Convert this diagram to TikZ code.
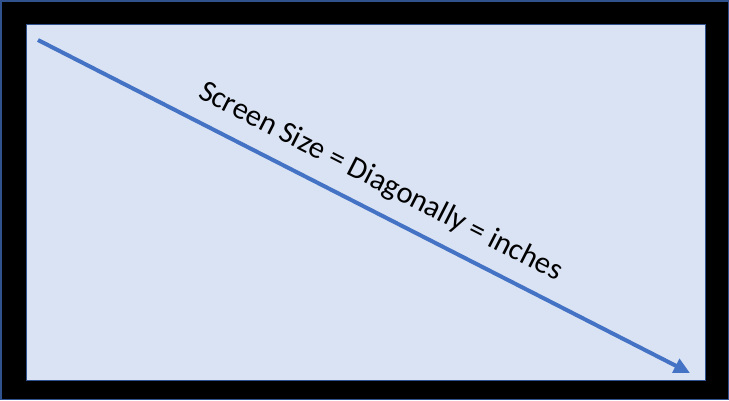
\documentclass[tikz,border=0pt]{standalone}
\usepackage{fontspec}
\setmainfont{Carlito}
\usetikzlibrary{arrows.meta, positioning}
\definecolor{screenfill}{HTML}{DAE3F3}
\definecolor{screenline}{HTML}{4472C4}
\definecolor{frameline}{HTML}{2F528F}
\begin{document}
\begin{tikzpicture}[x=1pt, y=-1pt]
\tikzset{bezel/.style={rectangle, fill=black, draw=frameline, line width=1.5pt},
		screen/.style={rectangle, fill=screenfill, draw=frameline, line width=1pt},
		diag/.style={draw=screenline, line width=4pt, -{Triangle[length=16pt, width=15pt]}},
		caption/.style={font=\fontsize{30.5}{34}\selectfont, sloped, above, inner sep=14pt}}
\useasboundingbox (0,0) rectangle (729,400);
\draw[bezel] (0.75,0.75) rectangle (728.25,399.25);
\draw[screen] (26,24) rectangle (705,380);
\coordinate (TL) at (38,40);
\coordinate (BR) at (690,373);
\draw[diag] (TL) -- node[caption, pos=0.505] (size) {Screen Size = Diagonally = inches} (BR);
\end{tikzpicture}
\end{document}
